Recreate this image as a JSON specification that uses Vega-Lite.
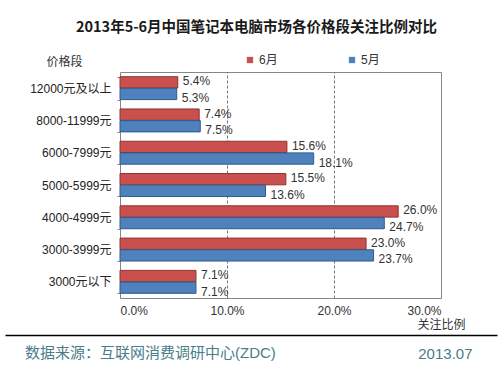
{
  "$schema": "https://vega.github.io/schema/vega-lite/v6.json",
  "background": "white",
  "padding": {"left": 5, "top": 19, "right": 2, "bottom": 2},
  "config": {
    "font": "Liberation Sans, Noto Sans CJK SC",
    "view": {"stroke": null}
  },
  "title": {
    "text": "2013年5-6月中国笔记本电脑市场各价格段关注比例对比",
    "font": "Noto Sans CJK SC",
    "fontSize": 14.5,
    "fontWeight": "bold",
    "color": "#1a1a1a",
    "anchor": "middle",
    "offset": 19,
    "dx": -52
  },
  "spacing": 3,
  "vconcat": [
    {
      "width": 321,
      "height": 226,
      "view": {"stroke": "#868686", "strokeWidth": 1},
      "data": {
        "values": [
          {"range": "12000元及以上", "month": "6月", "share": 0.054},
          {"range": "12000元及以上", "month": "5月", "share": 0.053},
          {"range": "8000-11999元", "month": "6月", "share": 0.074},
          {"range": "8000-11999元", "month": "5月", "share": 0.075},
          {"range": "6000-7999元", "month": "6月", "share": 0.156},
          {"range": "6000-7999元", "month": "5月", "share": 0.181},
          {"range": "5000-5999元", "month": "6月", "share": 0.155},
          {"range": "5000-5999元", "month": "5月", "share": 0.136},
          {"range": "4000-4999元", "month": "6月", "share": 0.260},
          {"range": "4000-4999元", "month": "5月", "share": 0.247},
          {"range": "3000-3999元", "month": "6月", "share": 0.230},
          {"range": "3000-3999元", "month": "5月", "share": 0.237},
          {"range": "3000元以下", "month": "6月", "share": 0.071},
          {"range": "3000元以下", "month": "5月", "share": 0.071}
        ]
      },
      "encoding": {
        "y": {
          "field": "range",
          "type": "nominal",
          "sort": ["12000元及以上", "8000-11999元", "6000-7999元", "5000-5999元", "4000-4999元", "3000-3999元", "3000元以下"],
          "scale": {"paddingInner": 0.29, "paddingOuter": 0.145},
          "axis": {
            "title": "价格段",
            "titleAngle": 0,
            "titleX": -56,
            "titleY": -11,
            "titleAlign": "center",
            "titleBaseline": "middle",
            "titleFontSize": 12,
            "titleFontWeight": "normal",
            "titleColor": "#333333",
            "labelFontSize": 12,
            "labelColor": "#222222",
            "labelPadding": 6,
            "tickSize": 3,
            "tickColor": "#868686",
            "tickBand": "extent",
            "domain": false,
            "grid": false
          }
        },
        "yOffset": {
          "field": "month",
          "type": "nominal",
          "sort": ["6月", "5月"],
          "scale": {"paddingInner": 0.03}
        },
        "x": {
          "field": "share",
          "type": "quantitative",
          "scale": {"domain": [0, 0.3]},
          "axis": {
            "values": [0, 0.1, 0.2, 0.3],
            "format": ".1%",
            "grid": true,
            "gridDash": [3, 2],
            "gridColor": "#777777",
            "gridOpacity": {"condition": {"test": "datum.value == 0 || datum.value >= 0.3", "value": 0}, "value": 1},
            "domain": false,
            "ticks": false,
            "labelFontSize": 12,
            "labelColor": "#333333",
            "labelPadding": 7,
            "title": "关注比例",
            "titleAnchor": "end",
            "titleAlign": "center",
            "titleFontSize": 12,
            "titleFontWeight": "normal",
            "titleColor": "#333333",
            "titlePadding": 3
          }
        }
      },
      "layer": [
        {
          "mark": {"type": "bar", "strokeWidth": 1},
          "encoding": {
            "color": {
              "field": "month",
              "type": "nominal",
              "scale": {"domain": ["6月", "5月"], "range": ["#C9504D", "#4F81BD"]},
              "legend": {
                "orient": "none",
                "legendX": 124,
                "legendY": -18,
                "direction": "horizontal",
                "title": null,
                "symbolType": "square",
                "symbolSize": 40,
                "symbolStrokeWidth": 0,
                "labelFontSize": 12,
                "labelColor": "#333333",
                "labelOffset": 3,
                "columnPadding": 68,
                "padding": 0
              }
            },
            "stroke": {
              "field": "month",
              "type": "nominal",
              "scale": {"domain": ["6月", "5月"], "range": ["#8C3432", "#2F5A8C"]},
              "legend": null
            }
          }
        },
        {
          "transform": [{"filter": "datum.month == '6月'"}],
          "mark": {"type": "text", "align": "left", "baseline": "middle", "dx": 5, "dy": -1, "fontSize": 12, "color": "#333333"},
          "encoding": {
            "text": {"field": "share", "type": "quantitative", "format": ".1%"}
          }
        },
        {
          "transform": [{"filter": "datum.month == '5月'"}],
          "mark": {"type": "text", "align": "left", "baseline": "middle", "dx": 5, "dy": 4, "fontSize": 12, "color": "#333333"},
          "encoding": {
            "text": {"field": "share", "type": "quantitative", "format": ".1%"}
          }
        }
      ]
    },
    {
      "width": 377,
      "height": 1,
      "data": {"values": [{"v": 0}]},
      "mark": {"type": "rule", "opacity": 0},
      "encoding": {
        "x": {
          "field": "v",
          "type": "quantitative",
          "scale": {"domain": [0, 1], "range": [-115, 377]},
          "axis": {
            "orient": "bottom",
            "domain": true,
            "domainColor": "#000000",
            "domainWidth": 1.5,
            "ticks": false,
            "labels": false,
            "grid": false,
            "title": "2013.07",
            "titleX": 352,
            "titleY": 18,
            "titleAlign": "right",
            "titleBaseline": "middle",
            "titleFontSize": 15,
            "titleFontWeight": "normal",
            "titleColor": "#4A7C8A"
          }
        }
      },
      "title": {
        "text": "数据来源：互联网消费调研中心(ZDC)",
        "orient": "bottom",
        "anchor": "start",
        "frame": "bounds",
        "fontSize": 15,
        "fontWeight": "normal",
        "color": "#4A7C8A",
        "offset": 0,
        "dx": 20,
        "dy": -15
      }
    }
  ]
}
